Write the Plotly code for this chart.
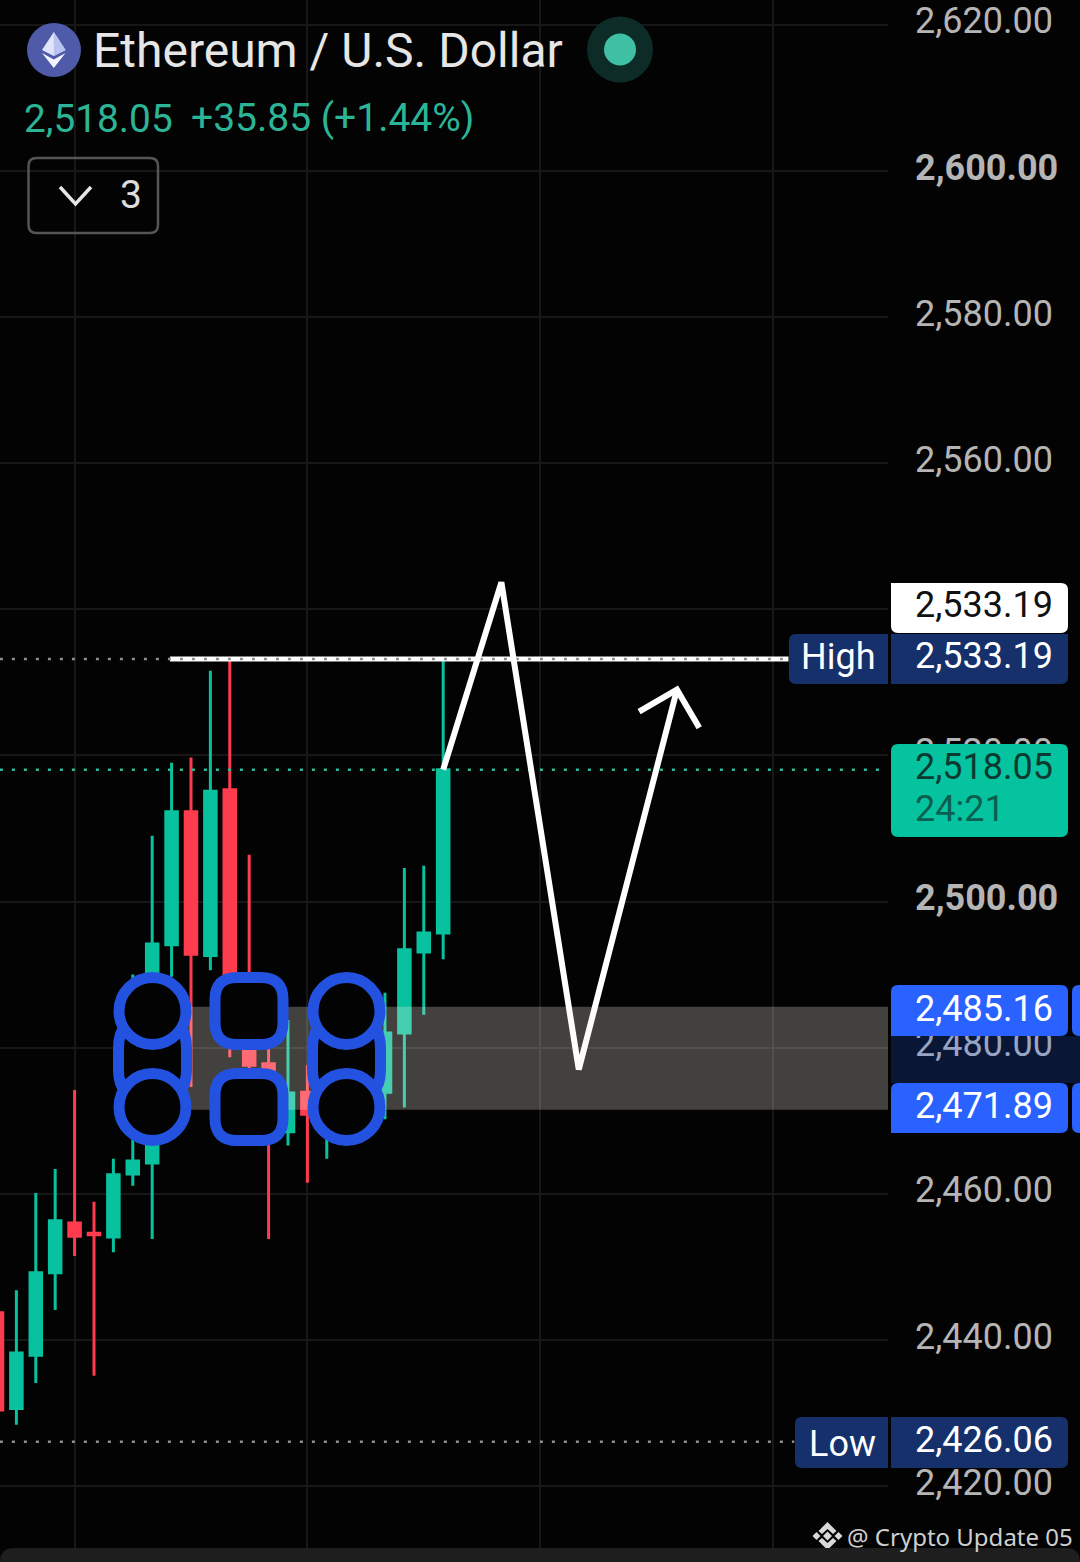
import plotly.graph_objects as go

W, H = 1080, 1562
PLOT_W = 888

# candle values
bars = list(range(24))
opens = [2443.7, 2430.6, 2437.9, 2449.2, 2456.0, 2454.6, 2454.1, 2462.7, 2464.2, 2494.1, 2512.3, 2492.6,
         2515.3, 2479.6, 2477.8, 2468.5, 2473.9, 2470.8, 2472.0, 2475.0, 2473.9, 2482.0, 2493.1, 2495.7]
highs = [2443.7, 2446.8, 2460.1, 2463.4, 2474.2, 2458.9, 2464.8, 2490.0, 2509.0, 2519.0, 2519.7, 2531.6,
         2533.19, 2506.4, 2482.4, 2483.8, 2477.6, 2478.3, 2480.0, 2480.0, 2487.5, 2504.6, 2504.9, 2533.19]
lows = [2430.4, 2428.4, 2434.1, 2444.1, 2451.5, 2435.1, 2452.0, 2461.1, 2453.8, 2489.7, 2474.6, 2490.6,
        2478.7, 2477.2, 2453.8, 2466.6, 2461.5, 2464.8, 2469.0, 2471.0, 2470.2, 2471.8, 2484.5, 2492.1]
closes = [2430.4, 2438.2, 2449.2, 2456.3, 2454.2, 2454.4, 2462.6, 2464.5, 2494.2, 2512.3, 2492.8, 2515.1,
          2483.8, 2477.6, 2476.8, 2473.8, 2470.9, 2474.2, 2476.0, 2478.0, 2482.0, 2493.4, 2495.7, 2518.05]

# drawn path and arrow head
path_x = [23, 26.0, 29.99, 35.05]
path_y = [2518.05, 2543.7, 2477.0, 2529.0]
head_x = [33.1, 35.05, 36.2]
head_y = [2526.0, 2529.0, 2523.8]

high_price = 2533.19
low_price = 2426.06
last_price = 2518.05
zone_top = 2485.6
zone_bottom = 2471.5

tick_vals = [2420, 2440, 2460, 2480, 2500, 2520, 2540, 2560, 2580, 2600, 2620]
tick_text = ["2,420.00", "2,440.00", "2,460.00", "2,480.00", "<b>2,500.00</b>", "2,520.00", "",
             "2,560.00", "2,580.00", "<b>2,600.00</b>", "2,620.00"]

GREEN = "#08c19e"
RED = "#ff3b4e"
BG = "#030303"
GRID = "#171717"
NAVY = "#15306b"
BLUE = "#2962ff"
RING = "#2452e0"


def px(x):
    return x / PLOT_W


def py(y):
    return 1 - y / H


def path(points, close=True):
    s = "M " + " L ".join(f"{px(x):.5f},{py(y):.5f}" for x, y in points)
    return s + (" Z" if close else "")


def rrect(x0, y0, x1, y1, r, tl=True, tr=True, br=True, bl=True):
    # rounded box, pixel coords turned into paper coords
    def c(x, y):
        return f"{px(x):.5f},{py(y):.5f}"
    rtl, rtr, rbr, rbl = [r if f else 0 for f in (tl, tr, br, bl)]
    return (f"M {c(x0 + rtl, y0)} L {c(x1 - rtr, y0)} Q {c(x1, y0)} {c(x1, y0 + rtr)} "
            f"L {c(x1, y1 - rbr)} Q {c(x1, y1)} {c(x1 - rbr, y1)} "
            f"L {c(x0 + rbl, y1)} Q {c(x0, y1)} {c(x0, y1 - rbl)} "
            f"L {c(x0, y0 + rtl)} Q {c(x0, y0)} {c(x0 + rtl, y0)} Z")


def box(x0, y0, x1, y1, r, fill, line=None, lw=0, **corners):
    return dict(type="path", xref="paper", yref="paper", path=rrect(x0, y0, x1, y1, r, **corners),
                fillcolor=fill, line=dict(color=line or fill, width=lw), layer="above")


def circle(cx, cy, r, fill, line=None, lw=0):
    return dict(type="circle", xref="paper", yref="paper", x0=px(cx - r), x1=px(cx + r),
                y0=py(cy + r), y1=py(cy - r), fillcolor=fill,
                line=dict(color=line or fill, width=lw), layer="above")


def poly(points, fill):
    return dict(type="path", xref="paper", yref="paper", path=path(points), fillcolor=fill,
                line=dict(width=0), layer="above")


def label(x, y, text, size, color, anchor="left", family="Roboto"):
    return dict(xref="paper", yref="paper", x=px(x), y=py(y), text=text, showarrow=False,
                xanchor=anchor, yanchor="middle", xshift=0,
                font=dict(family=family, size=size, color=color), borderpad=0, borderwidth=0)


fig = go.Figure()

fig.add_trace(go.Candlestick(
    x=bars, open=opens, high=highs, low=lows, close=closes,
    increasing=dict(line=dict(color=GREEN, width=3), fillcolor=GREEN),
    decreasing=dict(line=dict(color=RED, width=3), fillcolor=RED),
    whiskerwidth=0, showlegend=False,
))

# price lines
fig.add_trace(go.Scatter(x=[8.92, 40.8], y=[high_price, high_price], mode="lines",
                         line=dict(color="#ffffff", width=5), showlegend=False))
fig.add_trace(go.Scatter(x=[0.15, 40.8], y=[high_price, high_price], mode="lines",
                         line=dict(color="#8f8f8f", width=2.5, dash="3px,9px"), showlegend=False))
fig.add_trace(go.Scatter(x=[0.15, 41.1], y=[low_price, low_price], mode="lines",
                         line=dict(color="#8f8f8f", width=2.5, dash="3px,9px"), showlegend=False))
fig.add_trace(go.Scatter(x=[0.15, 45.5], y=[last_price, last_price], mode="lines",
                         line=dict(color="#2dbb9c", width=2.5, dash="3px,9px"), showlegend=False))

# white hand drawn arrow
fig.add_trace(go.Scatter(x=path_x, y=path_y, mode="lines",
                         line=dict(color="#ffffff", width=6, shape="linear"), showlegend=False))
fig.add_trace(go.Scatter(x=head_x, y=head_y, mode="lines",
                         line=dict(color="#ffffff", width=6), showlegend=False))

shapes = []

# grey zone over the candles
shapes.append(dict(type="rect", xref="x", yref="y", x0=8, x1=45.93, y0=zone_bottom, y1=zone_top,
                   fillcolor="rgba(255,248,232,0.255)", line=dict(width=0), layer="above"))

# blue double bottom marks
for cx in (152.5, 346.5):
    shapes.append(box(cx - 34, 1018, cx + 34, 1100, 30, "#030303", RING, 11))
    shapes.append(circle(cx, 1011, 33.5, "#030303", RING, 11))
    shapes.append(circle(cx, 1107, 33.5, "#030303", RING, 11))
for cy in (1011, 1107):
    shapes.append(box(249 - 34, cy - 33.5, 249 + 34, cy + 33.5, 22, "#030303", RING, 11))

# right hand price tags
shapes.append(box(891, 1036, 1080, 1083, 0, "rgba(41,98,255,0.2)"))
shapes.append(box(891, 583, 1068, 633, 7, "#ffffff", tl=False))
shapes.append(box(789, 634, 888, 684, 7, NAVY, tr=False, br=False))
shapes.append(box(891, 634, 1068, 684, 7, NAVY, tl=False, tr=False, bl=False))
shapes.append(box(891, 744, 1068, 837, 7, "#06c3a0", bl=True))
shapes.append(box(891, 985, 1068, 1036, 7, BLUE, tl=True, bl=False))
shapes.append(box(1072, 985, 1090, 1036, 7, BLUE))
shapes.append(box(891, 1083, 1068, 1133, 7, BLUE, tl=True, bl=False))
shapes.append(box(1072, 1083, 1090, 1133, 7, BLUE))
shapes.append(box(795, 1417, 888, 1468, 7, NAVY, tr=False, br=False))
shapes.append(box(891, 1417, 1068, 1468, 7, NAVY, tl=False, bl=False))

# header bits
shapes.append(circle(54, 50, 27, "#4f5ba8"))
shapes.append(poly([(53.8, 32), (42, 50), (53.8, 56), (65.5, 50)], "#dfe4fb"))
shapes.append(poly([(42, 53), (53.8, 68), (65.5, 53), (53.8, 59.5)], "#f3f5ff"))
shapes.append(poly([(53.8, 32), (65.5, 50), (53.8, 56)], "#b9c3f0"))
shapes.append(circle(620, 49.5, 33, "#0d2b27"))
shapes.append(circle(620, 49.5, 16, "#3fbfa3"))
shapes.append(box(28.5, 158, 158, 233, 8, "rgba(0,0,0,0)", "#555555", 2.5))
shapes.append(dict(type="path", xref="paper", yref="paper",
                   path=path([(60, 187), (75.5, 204), (91, 187)], close=False),
                   line=dict(color="#e6e6e6", width=3.5), layer="above"))

# watermark logo
LOGO = "#d8d8d8"
for cx, cy, r in ((816.5, 1536, 4), (838.5, 1536, 4), (827.5, 1536, 4.5)):
    shapes.append(poly([(cx, cy - r), (cx + r, cy), (cx, cy + r), (cx - r, cy)], LOGO))
shapes.append(poly([(827.5, 1522), (836.5, 1531), (833, 1534), (827.5, 1529), (822, 1534), (818.5, 1531)], LOGO))
shapes.append(poly([(827.5, 1550), (836.5, 1541), (833, 1538), (827.5, 1543), (822, 1538), (818.5, 1541)], LOGO))

# bottom sheet edge
shapes.append(box(0, 1548, 1080, 1572, 14, "#1e1e1e", bl=False, br=False))

annotations = [
    label(93, 50, "Ethereum / U.S. Dollar", 48, "#e6e6e6"),
    label(24, 118, "2,518.05", 38.8, "#2bb596"),
    label(190.5, 118, "+35.85 (+1.44%)", 39, "#2bb596"),
    label(120, 195, "3", 39, "#dddddd"),
    label(915, 605, "2,533.19", 36, "#111111"),
    label(801, 657, "High", 36, "#ffffff"),
    label(915, 656, "2,533.19", 36, "#ffffff"),
    label(915, 767, "2,518.05", 36, "#0a3a30"),
    label(915, 809, "24:21", 36, "#0b5f50"),
    label(915, 1009, "2,485.16", 36, "#ffffff"),
    label(915, 1106, "2,471.89", 36, "#ffffff"),
    label(809, 1444, "Low", 36, "#ffffff"),
    label(915, 1440, "2,426.06", 36, "#ffffff"),
    label(847, 1536, "@ Crypto Update 05", 24, "#cfcfcf", family="Noto Sans"),
]

fig.update_layout(
    width=W, height=H,
    margin=dict(l=0, r=W - PLOT_W, t=0, b=0),
    paper_bgcolor=BG, plot_bgcolor=BG,
    showlegend=False, boxgap=0.15,
    shapes=shapes, annotations=annotations,
    xaxis=dict(range=[0.155, 45.93], rangeslider=dict(visible=False), showticklabels=False,
               tick0=4, dtick=12, showgrid=True, gridcolor=GRID, gridwidth=2, zeroline=False),
    yaxis=dict(range=[2409.6, 2623.4], side="right", tickvals=tick_vals, ticktext=tick_text,
               showgrid=True, gridcolor=GRID, gridwidth=2, zeroline=False, ticks="",
               ticklabelstandoff=26, ticklabelshift=-4,
               tickfont=dict(family="Roboto", size=36, color="#b5b5b5")),
)

fig.write_html("out.html", config=dict(displayModeBar=False),
               post_script="document.body.style.margin='0';")
